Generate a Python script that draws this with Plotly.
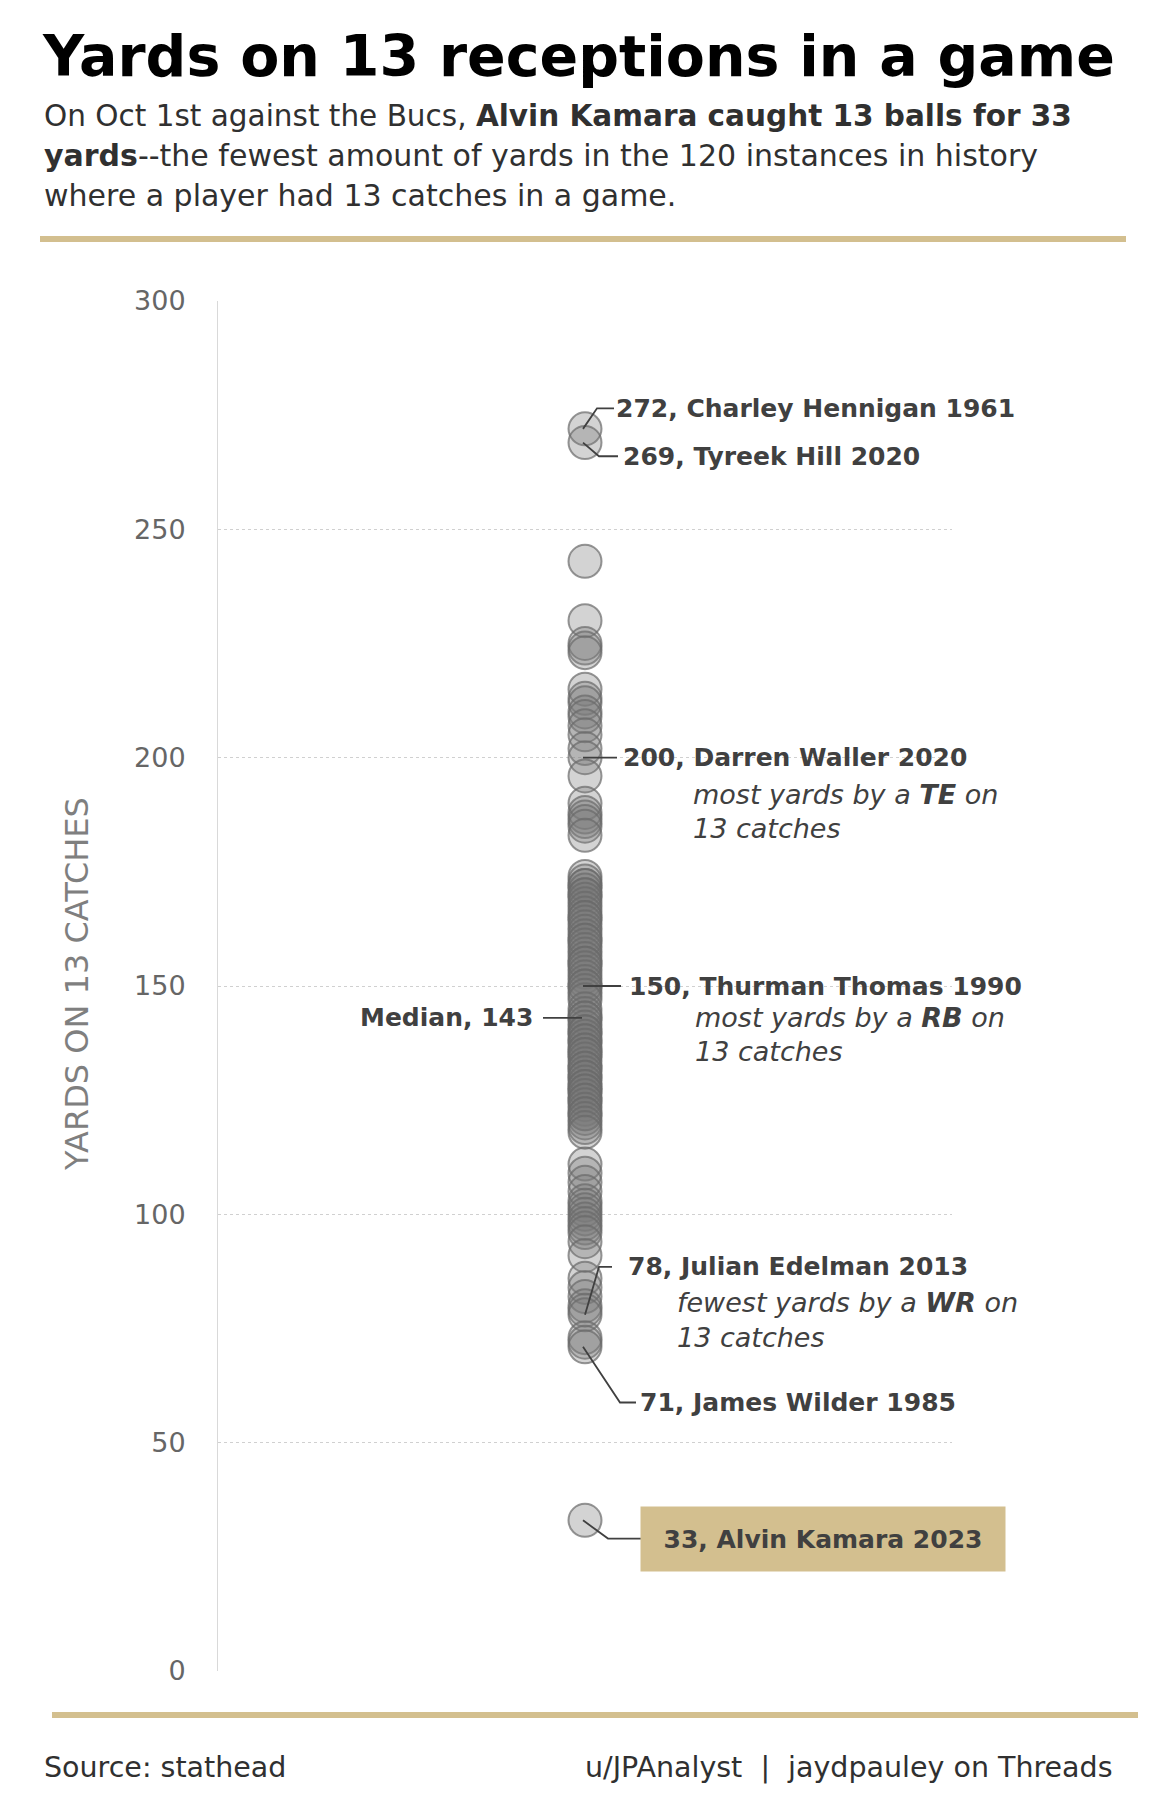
import plotly.graph_objects as go

# yards on 13 catches (120 games)
top_games = [272, 269, 243, 230, 225, 224, 223, 215, 213, 212, 210, 209,
             207, 205, 202, 200, 196, 190, 188, 187, 186, 185, 183]
upper_mid = [174, 173, 172, 172, 171, 170, 170, 169, 168, 167, 166, 165,
             165, 164, 163, 162, 161, 160, 160, 159, 158, 157, 156, 155,
             155, 154, 153, 152, 151, 150, 150, 149, 148, 147, 145, 144, 143]
lower_mid = [143, 142, 141, 140, 140, 139, 138, 138, 137, 136, 136, 135,
             135, 134, 133, 132, 132, 131, 130, 130, 129, 128, 128, 127,
             127, 126, 125, 125, 124, 123, 122, 122, 121, 120, 119, 118]
low_games = [111, 109, 107, 105, 103, 102, 101, 100, 99, 98, 97, 96, 94, 91,
             86, 84, 82, 80, 79, 78, 73, 72, 71, 33]

yards = top_games + upper_mid + lower_mid + low_games
cats = ["13 catches"] * len(yards)

GOLD = "#d3bf8f"
DARK = "#404040"
FONT = "DejaVu Sans"

# pixel helpers (plot area is 210..944 x 293..1663)
def px(x):
    return (x - 210) / 734

def py(y):
    return (1663 - y) / 1370

fig = go.Figure()
fig.add_trace(go.Scatter(
    x=cats, y=yards, mode="markers",
    marker=dict(size=33, color="rgba(120,120,120,0.33)",
                line=dict(color="rgba(105,105,105,0.7)", width=2)),
    hoverinfo="y", showlegend=False,
))

annotations = []
shapes = []

def label(x, y, text, size=25, anchor="left", italic=False, color=DARK):
    annotations.append(dict(
        x=x, y=y, xref="paper", yref="y", text=text, showarrow=False,
        xanchor=anchor, yanchor="middle",
        font=dict(family=FONT, size=size, color=color,
                  style="italic" if italic else "normal"),
    ))

def leader(points):
    d = "M " + " L ".join(f"{px(a)},{b}" for a, b in points)
    shapes.append(dict(type="path", path=d, xref="paper", yref="y",
                       line=dict(color=DARK, width=1.8)))

# Hennigan / Hill
leader([(575, 272), (589, 276.5), (606, 276.5)])
label(px(606), 276.5, "<b>272, Charley Hennigan 1961</b>")
leader([(575, 269), (591, 266), (610, 266)])
label(px(613), 266, "<b>269, Tyreek Hill 2020</b>")

# Waller
leader([(575, 200), (609, 200)])
label(px(613), 200, "<b>200, Darren Waller 2020</b>")
label(px(683), 192, "most yards by a <b>TE</b> on", size=27, italic=True)
label(px(683), 184.5, "13 catches", size=27, italic=True)

# Thomas
leader([(575, 150), (613, 150)])
label(px(619), 150, "<b>150, Thurman Thomas 1990</b>")
label(px(685), 143.2, "most yards by a <b>RB</b> on", size=27, italic=True)
label(px(685), 135.6, "13 catches", size=27, italic=True)

# median
leader([(535, 143), (574, 143)])
label(px(527), 143, "<b>Median, 143</b>", anchor="right")

# Edelman
leader([(577, 78), (591, 88.5), (604, 88.5)])
label(px(618), 88.5, "<b>78, Julian Edelman 2013</b>")
label(px(667), 80.6, "fewest yards by a <b>WR</b> on", size=27, italic=True)
label(px(667), 73, "13 catches", size=27, italic=True)

# Wilder
leader([(575, 71), (612, 58.8), (628, 58.8)])
label(px(630), 58.8, "<b>71, James Wilder 1985</b>")

# Kamara
leader([(575, 33), (600, 29), (633, 29)])
annotations.append(dict(
    x=px(815), y=29, xref="paper", yref="y", showarrow=False,
    text="<b>33, Alvin Kamara 2023</b>", xanchor="center", yanchor="middle",
    width=362, height=62, bgcolor=GOLD, align="center",
    font=dict(family=FONT, size=25, color=DARK),
))

# title block
annotations += [
    dict(x=px(32), y=py(48), xref="paper", yref="paper", showarrow=False,
         xanchor="left", yanchor="middle",
         text="<b>Yards on 13 receptions in a game</b>",
         font=dict(family=FONT, size=57, color="#000000")),
    dict(x=px(34), y=py(108), xref="paper", yref="paper", showarrow=False,
         xanchor="left", yanchor="middle",
         text="On Oct 1st against the Bucs, <b>Alvin Kamara caught 13 balls for 33</b>",
         font=dict(family=FONT, size=29.5, color="#303030")),
    dict(x=px(34), y=py(148), xref="paper", yref="paper", showarrow=False,
         xanchor="left", yanchor="middle",
         text="<b>yards</b>--the fewest amount of yards in the 120 instances in history",
         font=dict(family=FONT, size=30, color="#303030")),
    dict(x=px(34), y=py(188), xref="paper", yref="paper", showarrow=False,
         xanchor="left", yanchor="middle",
         text="where a player had 13 catches in a game.",
         font=dict(family=FONT, size=30, color="#303030")),
    dict(x=px(69), y=py(976), xref="paper", yref="paper", showarrow=False,
         xanchor="center", yanchor="middle", textangle=-90,
         text="YARDS ON 13 CATCHES",
         font=dict(family=FONT, size=32, color="#7f7f7f")),
    dict(x=px(34), y=py(1760), xref="paper", yref="paper", showarrow=False,
         xanchor="left", yanchor="middle", text="Source: stathead",
         font=dict(family=FONT, size=28.5, color="#303030")),
    dict(x=px(1107), y=py(1760), xref="paper", yref="paper", showarrow=False,
         xanchor="right", yanchor="middle",
         text="u/JPAnalyst  |  jaydpauley on Threads",
         font=dict(family=FONT, size=28.5, color="#303030")),
]

# gold rules
shapes += [
    dict(type="line", xref="paper", yref="paper", x0=px(32), x1=px(1118),
         y0=py(231), y1=py(231), line=dict(color=GOLD, width=6)),
    dict(type="line", xref="paper", yref="paper", x0=px(44), x1=px(1130),
         y0=py(1707), y1=py(1707), line=dict(color=GOLD, width=6)),
]

fig.update_layout(
    width=1155, height=1817,
    margin=dict(l=210, r=211, t=293, b=154),
    paper_bgcolor="white", plot_bgcolor="white",
    font=dict(family=FONT),
    annotations=annotations, shapes=shapes,
    xaxis=dict(type="category", range=[-0.5, 0.5], showgrid=False,
               showticklabels=False, zeroline=False, showline=False),
    yaxis=dict(range=[0, 300], tickvals=[0, 50, 100, 150, 200, 250, 300],
               showgrid=True, gridcolor="#d0d0d0", griddash="dot", gridwidth=1,
               zeroline=False, showline=True, linecolor="#d9d9d9", linewidth=1,
               ticks="", ticklabelstandoff=26,
               tickfont=dict(family=FONT, size=27, color="#666666")),
)

fig.write_html("out.html")
